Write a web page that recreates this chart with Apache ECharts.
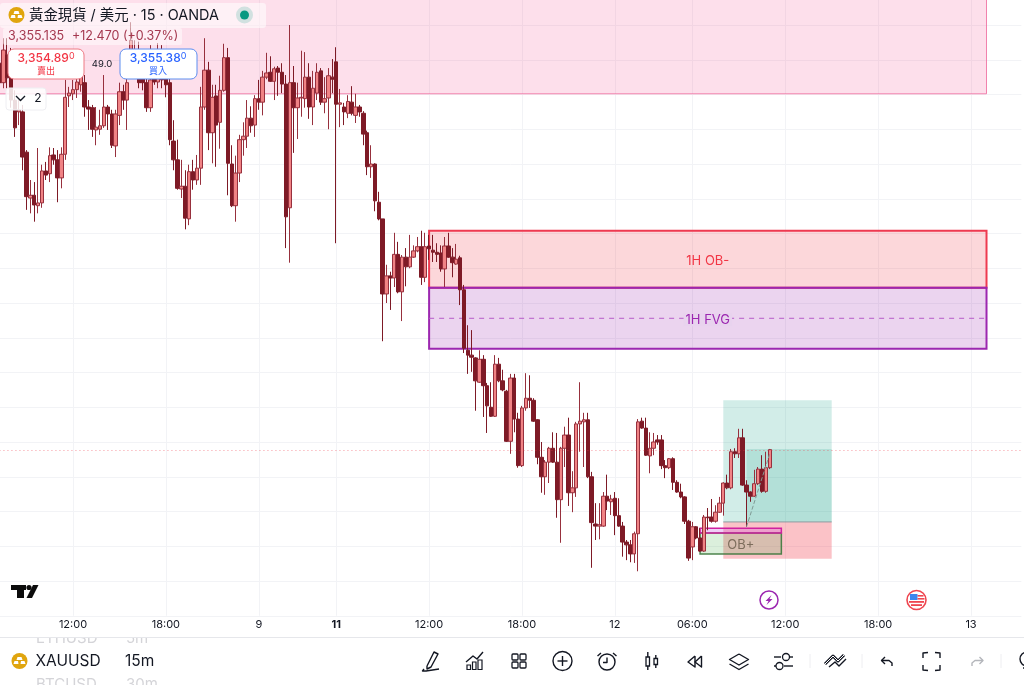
<!DOCTYPE html>
<html>
<head>
<meta charset="utf-8">
<title>XAUUSD 15m</title>
<script src="https://cdn.jsdelivr.net/npm/echarts@6/dist/echarts.min.js"></script>
<style>
  html, body { margin: 0; padding: 0; background: #fff; }
  #chart { width: 1024px; height: 685px; }
</style>
</head>
<body>
<div id="chart"></div>
<script>
// time axis
const barCount = 265;
const tickIndex = [19, 43, 67, 87, 111, 135, 159, 179, 203, 227, 251];
const tickLabels = ['12:00', '18:00', '9', '11', '12:00', '18:00', '12', '06:00', '12:00', '18:00', '13'];

// 15m candles
const opens = [3409.5,3406.7,3410.7,3410,3404.2,3402.5,3402.5,3396.7,3390.1,3390.5,3389,3389.4,3394,3393.6,3396.3,3395.6,3393,3396.4,3404.8,3405.1,
  3405.7,3406.4,3406.7,3403.2,3403.1,3399.9,3400,3400.5,3403.2,3402.2,3397.6,3402,3405.4,3404.2,3410,3408.8,3410.7,3410,3406.7,3403.1,
  3408.5,3406.8,3409.2,3407.8,3406.7,3398.3,3395.6,3391.4,3391.8,3387.1,3393.9,3392.7,3394.4,3403.2,3408.5,3399.5,3404.8,3401,3405.6,3410.3,
  3395,3389,3393.7,3398.5,3399,3401.6,3400.6,3404.4,3403.9,3407.5,3408.2,3406.9,3408.8,3408.2,3406.5,3388.7,3406.7,3403.1,3404.5,3404.4,
  3407.5,3403.2,3405.2,3408.4,3403.9,3404.5,3407.5,3409.7,3403.6,3403.2,3402.3,3403.9,3402,3403.2,3402.3,3399.5,3394.6,3395,3389.5,3387.1,
  3376.3,3378.9,3378.6,3382,3376.6,3381.6,3380.2,3381.6,3382.5,3383.1,3378.7,3383.2,3382.6,3382.3,3382.2,3379.9,3383.2,3381.6,3380.6,3381.5,
  3376.9,3368.2,3367.5,3367.1,3363.6,3366.9,3363.1,3360,3358.7,3366.2,3363.8,3362.3,3355.1,3364.2,3358.3,3351.6,3359.9,3361.3,3361,3358.2,
  3352.8,3350,3352.1,3354.1,3352.1,3346.7,3354.1,3356,3347.7,3348.4,3357.6,3357.9,3358.2,3350,3343.2,3342.9,3342.9,3347.2,3346.4,3346.9,
  3344.4,3342.9,3340.6,3340.2,3338.9,3341.8,3358,3357,3353,3354.1,3355.3,3355.3,3351.6,3351.3,3352.6,3349.2,3347.8,3347.1,3343.6,3339.9,
  3342.8,3341.2,3339.3,3344.2,3344.2,3343.6,3344.9,3346.2,3349.1,3348.4,3353.6,3353.3,3355.6,3348.8,3347.8,3347.2,3349,3351.1,3347.9,3351.3];
const closes = [3406.7,3411.4,3407.4,3404.2,3400.2,3402.8,3396,3390.3,3390.5,3389.1,3389.4,3394,3393.4,3396.2,3395.6,3393,3396.4,3404.6,3405.2,3405.7,
  3406.8,3407.8,3403.2,3402.9,3400,3400.3,3400.5,3403.2,3402.2,3397.7,3402.2,3405.4,3404.2,3406.7,3412.8,3410.7,3406.7,3406.7,3403.1,3407.1,
  3406.8,3408.5,3407.1,3406.4,3398.5,3395.6,3391.5,3391.8,3387.2,3393.9,3392.7,3394.4,3403.2,3408.5,3399.5,3404.6,3400.6,3405.6,3410.3,3395.1,
  3389,3393.7,3398.5,3399,3401.6,3400.5,3404.4,3403.9,3407.5,3408.1,3406.9,3408.7,3408.2,3406.5,3387.4,3406.7,3403.1,3404.5,3404.6,3407.5,
  3403.2,3405.9,3408.2,3403.9,3404.4,3407.7,3407.2,3403.6,3403.8,3402.5,3404,3402.3,3403.2,3402.5,3399.3,3394.6,3395,3389.7,3387.1,3376.3,
  3378.9,3378.6,3382,3376.6,3381.6,3380.2,3381.6,3382.5,3383.1,3378.7,3383.1,3382.8,3382.3,3382,3379.9,3383.2,3381.6,3380.8,3381.3,3376.9,
  3368.5,3367.5,3367.2,3363.8,3366.9,3363.1,3360.2,3358.7,3366.2,3363.8,3362.5,3355.1,3364.2,3358.3,3351.6,3359.9,3361.3,3361,3358,3352.8,
  3350,3352.1,3354.1,3352.1,3346.7,3354.1,3356,3347.7,3348.4,3357.6,3358,3358.2,3350,3343.4,3342.9,3343.1,3347.2,3346.5,3346.8,3344.4,
  3342.9,3340.6,3340.2,3338.9,3341.8,3357.9,3357,3353.1,3354.1,3355,3355,3351.6,3351.3,3352.6,3349.2,3347.8,3347.1,3343.6,3338.3,3342.8,
  3341.2,3339.3,3344.2,3344.1,3343.6,3344.9,3346.2,3349.1,3348.4,3353.6,3353.3,3355.6,3348.8,3347.8,3347.2,3349,3351.1,3347.9,3351.3,3353.9];
const lows = [3405.9,3405.9,3405.9,3403.1,3398.9,3400.6,3394.1,3388.4,3387.9,3386.7,3387.9,3388.7,3392.7,3392.4,3394.9,3389.5,3391.5,3395.6,3403.2,3404.2,
  3404.5,3405.4,3401.8,3399.9,3398.9,3397.7,3399.2,3400.2,3399.9,3397.3,3396,3400.6,3402.8,3399.9,3408.5,3407.4,3405.9,3405.6,3402.5,3402.5,
  3406.4,3405.9,3405.9,3404.6,3397.7,3394.1,3391.3,3390.1,3385.6,3386.2,3391.3,3392,3392,3402.8,3397,3395.1,3394.6,3397.2,3405.4,3390.5,
  3388.8,3386.7,3392.4,3396.2,3397.3,3399.5,3398.9,3402.8,3402,3407.2,3406.8,3404.2,3404.8,3405.2,3382.9,3380.8,3396.6,3398.6,3401.8,3403.1,
  3401.5,3400.6,3404.2,3403.5,3402.3,3400,3405.2,3383.6,3400.3,3400.6,3401.6,3402,3400.9,3401.8,3397.7,3393.4,3393,3388.2,3386.9,3369.5,
  3375,3374,3377.3,3376.4,3372.4,3377.4,3380,3381.5,3382.3,3377.6,3378,3381.2,3380.9,3380.9,3379.5,3377.3,3381.5,3378.7,3380.5,3374.7,
  3367.8,3364.8,3365.1,3359.5,3363.5,3358.6,3356.3,3358.6,3358.6,3363.6,3362.3,3355,3353.3,3356.4,3351.3,3351.4,3359.5,3359.9,3357.9,3351.8,
  3347.7,3347.4,3349.1,3352,3344.1,3340.5,3351.4,3345.8,3344.9,3347.1,3353.6,3351.4,3349.8,3336.9,3340.9,3341,3342.8,3345.2,3344.5,3341.6,
  3342.8,3338.5,3338,3337.7,3337.6,3336.4,3356.9,3353,3350.5,3353.1,3354.6,3351.1,3349.8,3351.1,3348.1,3347.7,3346.9,3343.2,3337.9,3338,
  3341,3339.2,3339.2,3342.3,3343.4,3343.4,3344.8,3344.4,3348.2,3348.2,3352.7,3352.7,3348.7,3342.8,3346.4,3347.1,3348.8,3347.7,3347.7,3351.1];
const highs = [3411.4,3413.1,3413.1,3411.7,3405.6,3404.2,3403.5,3397,3392.7,3392.4,3397.3,3394.9,3395.3,3397.4,3397.3,3397,3397.4,3407.1,3406.1,3407.1,
  3407.8,3410,3407.8,3404.2,3403.5,3403.2,3402.8,3407.8,3403.5,3402.8,3402.8,3406.7,3406.4,3407.4,3415.4,3412.8,3412.6,3411.4,3407.4,3412.1,
  3411.4,3412.4,3412.1,3411.4,3408.5,3401.3,3398.5,3395.6,3394.1,3394.9,3395.6,3396.3,3406.1,3413.1,3409.7,3406.4,3406.4,3407.7,3412.3,3411.7,
  3397.7,3396.2,3399.2,3401,3404.2,3403.3,3404.9,3407.1,3408.4,3411,3410.5,3409,3409.1,3409.5,3407.8,3415,3409.1,3406.7,3411.3,3411.1,
  3409.5,3408.4,3409.5,3408.8,3407.5,3408.8,3410.1,3411.8,3405.8,3403.8,3404.9,3406.2,3405.1,3403.5,3402.6,3399.8,3397.7,3395.1,3391,3387.1,
  3380.5,3379.5,3385.1,3383.8,3381.9,3382.9,3384.8,3383.3,3384.5,3385.4,3385.1,3384.8,3384.8,3383.6,3383.3,3384.5,3385.1,3382.9,3383.5,3381.8,
  3377.6,3371.8,3371.1,3367.2,3368.2,3367.5,3363.5,3363.6,3367.5,3367.1,3365.4,3362.5,3364.8,3364.8,3359.2,3360.2,3364.9,3364.6,3361.3,3358.3,
  3355,3352.4,3354.3,3356.4,3356.3,3354.3,3357.2,3358.5,3350.8,3357.9,3363.6,3359.2,3359.2,3350.7,3346.2,3346.2,3347.8,3350.3,3347.4,3347.8,
  3346.9,3343.5,3340.9,3340.9,3342.1,3358.3,3358.5,3358.5,3356.4,3356.3,3356,3356,3352.4,3352.7,3352.8,3349.5,3349,3347.2,3343.8,3343.5,
  3342.9,3342.6,3344.5,3345.5,3346.8,3345.9,3347.1,3349.2,3350.3,3354,3354.1,3356.9,3356.9,3349.5,3347.9,3351,3351.4,3353.1,3353.6,3354];

// drawings: bar index range and price range
const zoneNames = ['premium', '1H OB-', '1H FVG', 'target', 'targetLive', 'stop', 'OB+', 'imbalance'];
const zoneStart = [0, 111, 111, 187, 193, 187, 181, 181];
const zoneEnd = [255, 255, 255, 215, 215, 215, 202, 202];
const zoneHigh = [3425, 3385.4, 3377.2, 3361, 3354, 3343.5, 3341.9, 3342.6];
const zoneLow = [3405.1, 3377.2, 3368.4, 3343.5, 3343.5, 3338.2, 3338.9, 3341.9];
const fvgMiddle = 3372.8;
const entryLine = [[187, 3343.5], [215, 3343.5]];
const tradePath = [[193, 3342.8], [199, 3353.3]];
const lastPriceLine = 3353.85;

const categories = [];
for (let i = 0; i < barCount; i++) {
  const k = tickIndex.indexOf(i);
  categories.push(k >= 0 ? tickLabels[k] : '');
}
const showTick = (index) => tickIndex.indexOf(index) >= 0;
const candles = opens.map((o, i) => [o, closes[i], lows[i], highs[i]]);
const zones = zoneNames.map((n, i) => [zoneStart[i], zoneEnd[i], zoneHigh[i], zoneLow[i]]);

const zoneStyles = {
  'premium': { fill: 'rgba(242,54,130,0.16)', stroke: 'rgba(238,110,160,0.85)', lineWidth: 1 },
  '1H OB-': { fill: 'rgba(242,54,69,0.2)', stroke: '#ee3a50', lineWidth: 2, label: '#f23645' },
  '1H FVG': { fill: 'rgba(156,39,176,0.2)', stroke: '#9c27b0', lineWidth: 2, label: '#9c27b0' },
  'target': { fill: 'rgba(8,153,129,0.18)' },
  'targetLive': { fill: 'rgba(8,153,129,0.15)' },
  'stop': { fill: 'rgba(242,54,69,0.3)' },
  'OB+': { fill: 'rgba(76,175,80,0.2)', stroke: 'rgba(60,120,60,0.9)', lineWidth: 1.5, label: '#7d6d5c' },
  'imbalance': { fill: 'rgba(190,60,220,0.25)', stroke: '#d020a0', lineWidth: 1.5 }
};

function renderZone(params, api) {
  const name = zoneNames[params.dataIndex];
  const st = zoneStyles[name];
  const a = api.coord([api.value(0), api.value(2)]);
  const b = api.coord([api.value(1), api.value(3)]);
  const children = [{
    type: 'rect',
    shape: { x: a[0], y: a[1], width: b[0] - a[0], height: b[1] - a[1] },
    style: { fill: st.fill, stroke: st.stroke || null, lineWidth: st.lineWidth || 0 }
  }];
  if (name === '1H FVG') {
    const m = api.coord([api.value(0), fvgMiddle]);
    children.push({
      type: 'line',
      shape: { x1: a[0], y1: m[1], x2: b[0], y2: m[1] },
      style: { stroke: '#b65bc8', lineWidth: 1, lineDash: [5, 5] }
    });
  }
  if (st.label) {
    children.push({
      type: 'text',
      style: {
        text: name, x: (a[0] + b[0]) / 2, y: (a[1] + b[1]) / 2 + 1.5, fill: st.label,
        font: '13px Inter, "Liberation Sans", sans-serif', textAlign: 'center', textVerticalAlign: 'middle',
        backgroundColor: name === '1H FVG' ? '#e8d3ee' : 'transparent',
        padding: [0, 2]
      }
    });
  }
  return { type: 'group', children };
}

// ui overlay
const INK = '#131722';
const FONT = 'Inter, "Noto Sans CJK TC", "Liberation Sans", sans-serif';
const Z = 100;
const rect = (x, y, width, height, style, r) => ({ type: 'rect', z: Z, shape: { x, y, width, height, r: r || 0 }, style });
const circle = (cx, cy, r, style) => ({ type: 'circle', z: Z, shape: { cx, cy, r }, style });
const seg = (x1, y1, x2, y2, stroke, lineWidth) => ({ type: 'line', z: Z, shape: { x1, y1, x2, y2 }, style: { stroke, lineWidth: lineWidth || 1.4 } });
const poly = (points, stroke, lineWidth) => ({ type: 'polyline', z: Z, shape: { points }, style: { stroke, fill: 'none', lineWidth: lineWidth || 1.4, lineJoin: 'round' } });
const shape = (points, fill) => ({ type: 'polygon', z: Z, shape: { points }, style: { fill } });
const label = (text, x, y, font, fill, align, extra) => ({
  type: 'text', z: Z,
  style: Object.assign({ text, x, y, font: font + ' ' + FONT, fill, textAlign: align || 'left', textVerticalAlign: 'middle' }, extra || {})
});
const goldIcon = (cx, cy) => [
  circle(cx, cy, 8, { fill: '#e0a50e' }),
  shape([[cx - 2, cy - 4], [cx + 2, cy - 4], [cx + 3, cy - 1], [cx - 3, cy - 1]], '#fff'),
  shape([[cx - 5, cy], [cx - 1.5, cy], [cx - 1, cy + 3], [cx - 6, cy + 3]], '#fff'),
  shape([[cx + 1.5, cy], [cx + 5, cy], [cx + 6, cy + 3], [cx + 1, cy + 3]], '#fff')
];
const priceText = (main, small, x, y, fill) => ({
  type: 'text', z: Z,
  style: {
    text: '{m|' + main + '}{s|' + small + '}', x, y, textAlign: 'center', textVerticalAlign: 'middle',
    rich: { m: { font: '500 12px ' + FONT, fill, letterSpacing: 0.4 }, s: { font: '9px ' + FONT, fill, verticalAlign: 'top' } }
  }
});

const uiElements = [
  // header
  rect(0, 3, 266, 25, { fill: 'rgba(255,255,255,0.55)' }, 3),
  rect(3, 28, 179, 17, { fill: 'rgba(255,255,255,0.5)' }, 2),
  ...goldIcon(16.5, 15),
  label('黃金現貨 / 美元 · 15 · OANDA', 29, 16, '14.4px', INK),
  circle(244.5, 15, 8.5, { fill: 'rgba(8,153,129,0.18)' }),
  circle(244.5, 15, 4.5, { fill: '#089981' }),
  label('3,355.135', 8, 36, '12.5px', '#a5384f'),
  label('+12.470 (+0.37%)', 72, 36, '12.5px', '#a5384f'),
  // sell / buy
  rect(8, 49, 76, 30, { fill: '#fff', stroke: '#ee7a84', lineWidth: 1 }, 6),
  priceText('3,354.89', '0', 46, 58, '#f23645'),
  label('賣出', 46, 71, '9px', '#f23645', 'center'),
  label('49.0', 102, 64, '9.5px', INK, 'center'),
  rect(120, 49, 77, 30, { fill: '#fff', stroke: '#5c8ef0', lineWidth: 1 }, 6),
  priceText('3,355.38', '0', 158, 58, '#2962ff'),
  label('買入', 158, 71, '9px', '#2962ff', 'center'),
  rect(6, 88, 40, 22, { fill: 'rgba(255,255,255,0.85)', stroke: '#eeeef2', lineWidth: 1 }, 3),
  poly([[16, 96], [20.5, 100.5], [25, 96]], INK, 1.4),
  label('2', 38, 98, '12px', INK, 'center'),
  // tv logo
  rect(11, 585, 15, 5, { fill: '#0c0c0c' }),
  rect(17, 585, 7, 13, { fill: '#0c0c0c' }),
  circle(29, 587.5, 2.6, { fill: '#0c0c0c' }),
  shape([[33, 585], [38.5, 585], [32, 598], [26.5, 598]], '#0c0c0c'),
  // events
  circle(769, 600, 9, { fill: '#fff', stroke: '#9c27b0', lineWidth: 1.5 }),
  shape([[771.5, 595], [765.5, 601], [768.5, 601], [766.5, 605], [772.5, 599], [769.5, 599]], '#9c27b0'),
  circle(916.5, 600, 9.5, { fill: '#fff', stroke: '#ef4650', lineWidth: 1.6 }),
  rect(910, 594, 7.5, 6, { fill: '#3d86ee' }),
  rect(917.5, 595, 6, 1.6, { fill: '#ef4650' }),
  rect(917.5, 598, 7, 1.6, { fill: '#ef4650' }),
  rect(909, 601, 15, 1.8, { fill: '#ef4650' }),
  rect(911, 604.2, 11, 1.8, { fill: '#ef4650' }),
  // bottom bar with a scrolling symbol list
  label('ETHUSD', 36, 638, '15px', '#d4d4d8'),
  label('5m', 126, 638, '15px', '#d4d4d8'),
  rect(0, 631.5, 1024, 5.5, { fill: '#fff' }),
  seg(0, 637.5, 1024, 637.5, '#e6e7eb', 1),
  label('BTCUSD', 36, 684, '15px', '#d4d4d8'),
  label('30m', 126, 684, '15px', '#d4d4d8'),
  ...goldIcon(19.5, 661),
  label('XAUUSD', 35.5, 661, '15.5px', INK),
  label('15m', 125, 661, '15.5px', INK),
  // pencil
  poly([[427, 666], [434, 652], [438, 654], [431, 667], [427, 669], [427, 666]], INK),
  poly([[424, 669], [422.5, 671], [426, 671], [439, 669]], INK),
  // indicators
  poly([[466, 662], [473, 656], [477, 659], [483, 652]], INK),
  rect(467, 665, 3.5, 4.5, { stroke: INK, fill: 'none', lineWidth: 1.2 }),
  rect(472.5, 662, 3.5, 7.5, { stroke: INK, fill: 'none', lineWidth: 1.2 }),
  rect(478, 660, 4, 9.5, { stroke: INK, fill: 'none', lineWidth: 1.2 }),
  // layouts
  rect(512, 654, 6, 6, { stroke: INK, fill: 'none', lineWidth: 1.3 }, 1),
  rect(520, 654, 6, 6, { stroke: INK, fill: 'none', lineWidth: 1.3 }, 1),
  rect(512, 662, 6, 6, { stroke: INK, fill: 'none', lineWidth: 1.3 }, 1),
  rect(520, 662, 6, 6, { stroke: INK, fill: 'none', lineWidth: 1.3 }, 1),
  // add
  circle(562.5, 661, 9.5, { fill: 'none', stroke: INK, lineWidth: 1.4 }),
  seg(557.5, 661, 567.5, 661, INK), seg(562.5, 656, 562.5, 666, INK),
  // alarm
  circle(607, 662, 8, { fill: 'none', stroke: INK, lineWidth: 1.4 }),
  poly([[607, 657.5], [607, 662.5], [603, 662.5]], INK),
  seg(597.5, 656, 601, 653, INK), seg(616.5, 656, 613, 653, INK),
  // candle type
  rect(646, 657, 3.5, 9, { stroke: INK, fill: 'none', lineWidth: 1.3 }),
  seg(647.8, 652, 647.8, 657, INK), seg(647.8, 666, 647.8, 670, INK),
  rect(654, 658.5, 3.5, 6, { stroke: INK, fill: 'none', lineWidth: 1.3 }),
  seg(655.8, 655, 655.8, 658.5, INK), seg(655.8, 664.5, 655.8, 668, INK),
  // replay
  poly([[695, 656], [688, 662], [695, 667], [695, 656]], INK),
  poly([[701.5, 656], [695, 662], [701.5, 667], [701.5, 656]], INK),
  // layers
  poly([[739, 654], [729.5, 659.5], [739, 665], [748.5, 659.5], [739, 654]], INK),
  poly([[729.5, 664], [739, 669.5], [748.5, 664]], INK),
  // settings
  seg(774, 657, 781, 657, INK), seg(790, 657, 793, 657, INK),
  circle(786, 657, 3.5, { fill: 'none', stroke: INK, lineWidth: 1.3 }),
  seg(774, 666, 776, 666, INK), seg(784, 666, 793, 666, INK),
  circle(779.5, 666, 3.5, { fill: 'none', stroke: INK, lineWidth: 1.3 }),
  seg(810, 654, 810, 668, '#eeeef1', 1),
  // templates
  poly([[825, 664], [833, 656], [838, 661], [844, 655]], INK, 3),
  poly([[825, 664], [833, 656], [838, 661], [844, 655]], '#fff', 1),
  poly([[829, 667], [835, 662], [839, 666], [846, 659]], INK, 1.4),
  seg(862, 654, 862, 668, '#eeeef1', 1),
  // undo
  poly([[885, 657], [881.5, 660.5], [885, 664]], INK),
  poly([[881.5, 660.5], [889, 660.5], [892, 663], [892, 666]], INK),
  // fullscreen
  poly([[923, 658], [923, 653], [928, 652.5]], INK),
  poly([[935, 652.5], [940, 653], [940, 658]], INK),
  poly([[940, 665], [940, 670], [935, 670.5]], INK),
  poly([[928, 670.5], [923, 670], [923, 665]], INK),
  // redo
  poly([[979.5, 657], [983, 660.5], [979.5, 664]], '#b4b6bb'),
  poly([[983, 660.5], [975, 660.5], [972, 663], [972, 666]], '#b4b6bb'),
  seg(1001, 654, 1001, 668, '#eeeef1', 1),
  // hints
  circle(1027, 659, 7, { fill: 'none', stroke: INK, lineWidth: 1.4 }),
  seg(1023, 668, 1024, 668, INK)
];

const chart = echarts.init(document.getElementById('chart'));
chart.setOption({
  animation: false,
  backgroundColor: '#ffffff',
  grid: { left: -0.55, right: 2.65, top: -9.75, bottom: 69.25, containLabel: false, outerBoundsMode: 'none' },
  xAxis: {
    type: 'category',
    data: categories,
    boundaryGap: false,
    axisLine: { show: false },
    axisTick: { show: false },
    axisLabel: {
      interval: (index) => showTick(index),
      margin: 3,
      fontSize: 11,
      color: INK,
      fontFamily: FONT,
      formatter: (v) => (v === '11' ? '{b|11}' : v),
      rich: { b: { fontWeight: 'bold', fontSize: 11, color: INK, fontFamily: FONT } }
    },
    splitLine: { show: true, interval: (index) => showTick(index), lineStyle: { color: '#f2f3f6', width: 1 } }
  },
  yAxis: {
    type: 'value',
    min: 3330,
    max: 3420,
    interval: 5,
    axisLine: { show: false },
    axisTick: { show: false },
    axisLabel: { show: false },
    splitLine: { show: true, lineStyle: { color: '#f2f3f6', width: 1 } }
  },
  series: [
    {
      type: 'custom',
      z: 1,
      silent: true,
      data: zones,
      encode: { x: [0, 1], y: [2, 3] },
      renderItem: renderZone
    },
    {
      type: 'line',
      z: 1,
      silent: true,
      data: entryLine,
      showSymbol: false,
      lineStyle: { color: '#8f9aa0', width: 1 }
    },
    {
      type: 'candlestick',
      data: candles,
      barWidth: 3.9,
      z: 2,
      itemStyle: {
        color: '#f08385',
        color0: '#7e1a26',
        borderColor: '#97303d',
        borderColor0: '#7e1a26',
        borderWidth: 1
      },
      markLine: {
        silent: true,
        symbol: 'none',
        label: { show: false },
        lineStyle: { type: [1, 3], color: 'rgba(242,54,69,0.5)', width: 1 },
        data: [{ yAxis: lastPriceLine }]
      }
    },
    {
      type: 'line',
      z: 3,
      silent: true,
      data: tradePath,
      showSymbol: false,
      lineStyle: { color: '#7f9a94', width: 1, type: 'dashed' }
    }
  ],
  graphic: { elements: uiElements }
});
</script>
</body>
</html>
